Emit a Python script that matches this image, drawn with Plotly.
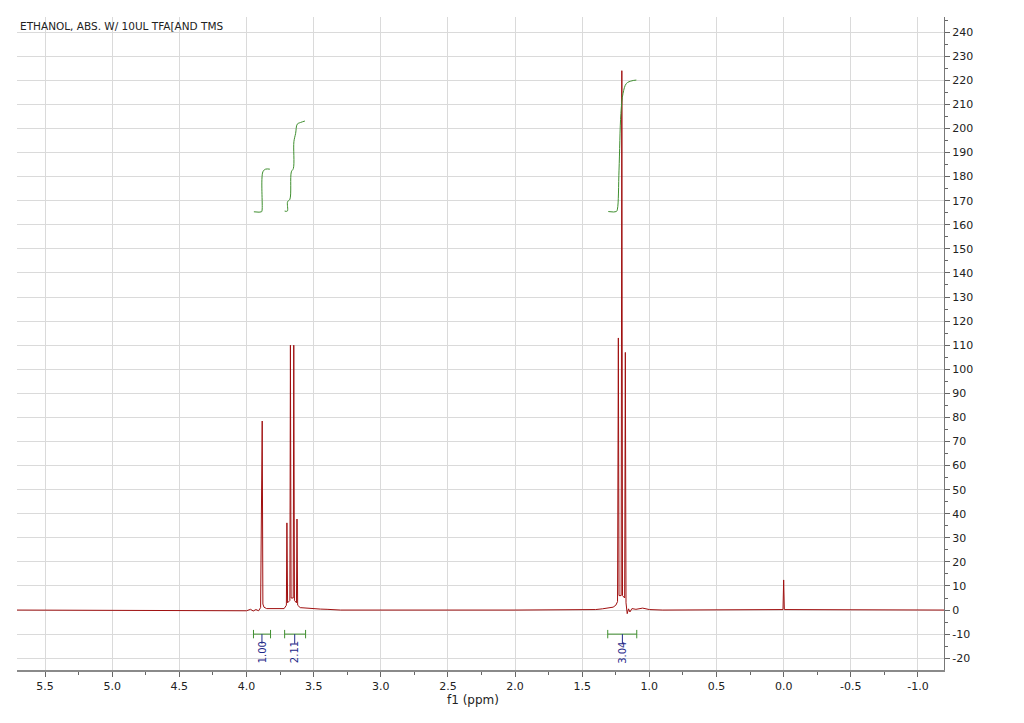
import plotly.graph_objects as go

# ---- spectrum ----
spec_ppm = [5.71, 4.10, 4.00, 3.97, 3.95, 3.93, 3.91, 3.895, 3.883, 3.878, 3.87, 3.85, 3.80,
            3.75, 3.72, 3.703, 3.699, 3.694, 3.677, 3.673, 3.668, 3.652, 3.648, 3.643, 3.628,
            3.624, 3.619, 3.60, 3.55, 3.50, 3.45, 3.40, 3.35, 3.30, 2.00, 1.45, 1.40, 1.35,
            1.30, 1.27, 1.25, 1.237, 1.231, 1.226, 1.210, 1.205, 1.200, 1.184, 1.179, 1.174,
            1.165, 1.155, 1.145, 1.13, 1.10, 1.05, 1.00, 0.90, 0.005, 0.0, -0.005, -0.50, -1.20]
spec_int = [0, 0, -0.3, 0.3, -0.4, 0.2, -0.3, 1.0, 78.5, 2.5, 1.2, 0.6, 0.5,
            0.4, 0.6, 2.0, 36.2, 3, 4, 110, 5, 5, 110, 4, 3,
            37.8, 2, 1.0, 0.7, 0.5, 0.4, 0.3, 0.1, 0, 0, 0, 0.2, 0.5,
            0.8, 1.2, 2.0, 3.5, 113, 6, 6, 224, 6, 5, 107, 3,
            -1.5, 0.5, -0.8, 0.6, 0.3, 0.8, 0.2, 0, 0.2, 12.5, 0.2, 0, 0]

# ---- integral curves ----
int1_ppm = [3.945, 3.888, 3.884, 3.878, 3.858, 3.826]
int1_val = [165.4, 165.4, 166.1, 182.0, 183.1, 183.1]
int2_ppm = [3.716, 3.696, 3.694, 3.677, 3.666, 3.651, 3.647, 3.634, 3.622, 3.597, 3.565]
int2_val = [165.7, 165.7, 169.6, 170.6, 182.0, 183.4, 194.5, 198.0, 201.8, 202.5, 203.1]
int3_ppm = [1.306, 1.246, 1.238, 1.226, 1.212, 1.196, 1.171, 1.130, 1.097]
int3_val = [165.5, 165.5, 166.5, 182.7, 206.2, 214.6, 218.7, 219.8, 220.1]

# ---- integral brackets ----
bracket_start = [3.948, 3.716, 1.310]
bracket_end = [3.821, 3.560, 1.094]
bracket_center = [3.885, 3.641, 1.201]
bracket_label = ["1.00", "2.11", "3.04"]

x_tickvals = [5.5, 5.0, 4.5, 4.0, 3.5, 3.0, 2.5, 2.0, 1.5, 1.0, 0.5, 0.0, -0.5, -1.0]
x_ticktext = ["5.5", "5.0", "4.5", "4.0", "3.5", "3.0", "2.5", "2.0", "1.5", "1.0", "0.5",
              "0.0", "-0.5", "-1.0"]
y_tickvals = list(range(-20, 250, 10))
y_ticktext = [str(v) for v in y_tickvals]

title_text = "ETHANOL, ABS. W/ 10UL TFA[AND TMS"

FONT = "DejaVu Sans"
SPEC_COLOR = "#a01010"
INT_COLOR = "#3f8f2f"
LABEL_COLOR = "#1f2a8a"
GRIDCOLOR = "#dadada"

fig = go.Figure()

fig.add_scatter(x=spec_ppm, y=spec_int, mode="lines",
                line={"color": SPEC_COLOR, "width": 1}, showlegend=False)

for xs, ys in [(int1_ppm, int1_val), (int2_ppm, int2_val), (int3_ppm, int3_val)]:
    fig.add_scatter(x=xs, y=ys, mode="lines", line={"color": INT_COLOR, "width": 1, "shape": "spline"},
                    showlegend=False)

for a, b, c, lab in zip(bracket_start, bracket_end, bracket_center, bracket_label):
    fig.add_scatter(x=[a, b], y=[-10, -10], mode="lines+markers",
                    line={"color": INT_COLOR, "width": 1},
                    marker={"symbol": "line-ns", "size": 6, "line": {"color": INT_COLOR, "width": 1}},
                    showlegend=False)
    fig.add_scatter(x=[c, c], y=[-10, -14], mode="lines",
                    line={"color": LABEL_COLOR, "width": 1}, showlegend=False)
    fig.add_annotation(x=c, y=-17.6, text=lab, textangle=-90, showarrow=False,
                       xanchor="center", yanchor="middle",
                       font={"family": FONT, "size": 10, "color": LABEL_COLOR})

# the page puts the figure 8px in from the top-left corner
fig.add_annotation(text=title_text, xref="paper", yref="paper", x=0.001, y=0.999,
                   xanchor="left", yanchor="top", showarrow=False,
                   font={"family": FONT, "size": 10.5, "color": "#222"})
fig.add_annotation(text="f1 (ppm)", xref="paper", yref="paper", x=0.492, y=-0.046,
                   xanchor="center", yanchor="middle", showarrow=False,
                   font={"family": FONT, "size": 12, "color": "#222"})

(
    fig.update_xaxes(
        range=[5.709, -1.194],
        tickvals=x_tickvals,
        ticktext=x_ticktext,
        ticks="outside",
        ticklen=5,
        tickcolor="#666",
        minor={"dtick": 0.25, "ticks": "outside", "ticklen": 3, "tickcolor": "#666", "showgrid": False},
        showgrid=True,
        gridcolor=GRIDCOLOR,
        zeroline=False,
        showline=True,
        linecolor="#8a8a8a",
        linewidth=2,
        tickfont={"family": FONT, "size": 11, "color": "#222"},
    )
    .update_yaxes(
        side="right",
        range=[-24.9, 246.3],
        tickvals=y_tickvals,
        ticktext=y_ticktext,
        ticks="outside",
        ticklen=5,
        tickcolor="#666",
        minor={"dtick": 5, "ticks": "outside", "ticklen": 3, "tickcolor": "#666", "showgrid": False},
        showgrid=True,
        gridcolor=GRIDCOLOR,
        zeroline=False,
        showline=True,
        linecolor="#777",
        linewidth=1,
        tickfont={"family": FONT, "size": 11, "color": "#222"},
    )
    .update_layout(
        width=1016,
        height=715,
        margin={"l": 9, "r": 80, "t": 9, "b": 53},
        plot_bgcolor="white",
        paper_bgcolor="white",
        showlegend=False,
    )
)

fig.write_html("out.html")
